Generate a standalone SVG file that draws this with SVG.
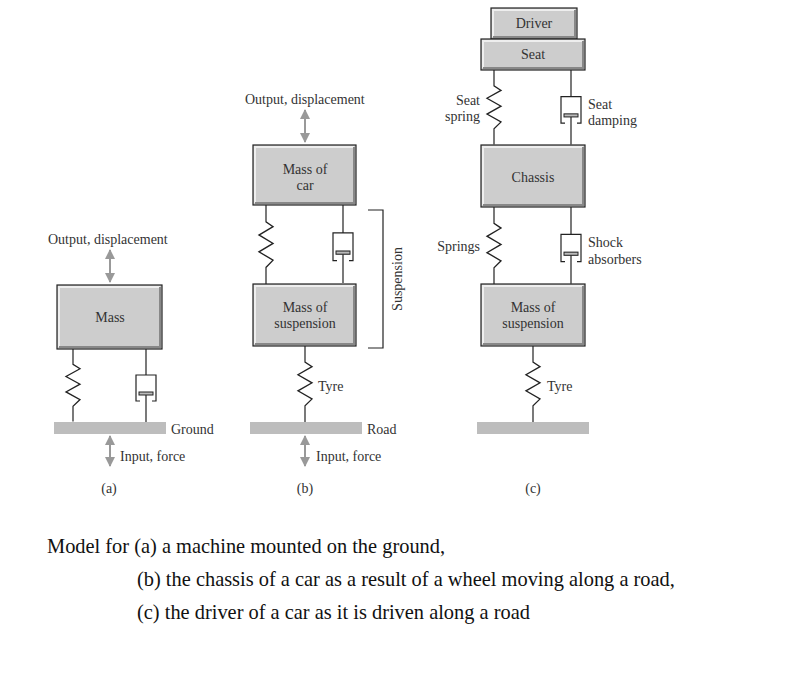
<svg xmlns="http://www.w3.org/2000/svg" width="788" height="696" viewBox="0 0 788 696">
<defs>
<style>
.box{fill:#cdcdcd;stroke:#222;stroke-width:1.2}
.hl{fill:none;stroke:#eee;stroke-width:2}
.sh{fill:none;stroke:#888;stroke-width:2}
.ln{fill:none;stroke:#222;stroke-width:1.2}
.gr{fill:#bdbdbd;stroke:none}
.t{font-family:"Liberation Serif",serif;font-size:14px;fill:#333}
.cap{font-family:"Liberation Serif",serif;font-size:20.4px;fill:#111}
.arr{fill:none;stroke:#999;stroke-width:2}
</style>
<g id="spring"><path class="ln" d="M0 0 V14 L7 18 L-7 25 L7 32 L-7 39 L7 46 L0 52 V66"/></g>
<g id="damper"><path class="ln" d="M0 0 V26 M-10 36 V26 H10 V36 M-10 40 V52 H-6 M10 40 V52 H6 M-10 36 V44 M10 36 V44 M0 46 V73"/><rect x="-7" y="43" width="14" height="3" fill="#bbb" stroke="#222" stroke-width="1"/></g>
<marker id="ah" viewBox="0 0 10 10" refX="9" refY="5" markerWidth="5" markerHeight="5" orient="auto-start-reverse"><path d="M0 0 L10 5 L0 10 Z" fill="#999"/></marker>
</defs>

<g id="connectors">
<use href="#spring" transform="translate(73,349) scale(1,1.1)"/>
<use href="#damper" transform="translate(146,349)"/>
<line class="arr" x1="110" y1="250" x2="110" y2="282" marker-start="url(#ah)" marker-end="url(#ah)"/>
<line class="arr" x1="110" y1="436" x2="110" y2="466" marker-start="url(#ah)" marker-end="url(#ah)"/>
<use href="#spring" transform="translate(266,205) scale(1,1.2)"/>
<use href="#damper" transform="translate(343,205) scale(1,1.07)"/>
<use href="#spring" transform="translate(305,346) scale(1,1.15)"/>
<line class="arr" x1="305" y1="110" x2="305" y2="142" marker-start="url(#ah)" marker-end="url(#ah)"/>
<line class="arr" x1="305" y1="436" x2="305" y2="466" marker-start="url(#ah)" marker-end="url(#ah)"/>
<path class="ln" d="M368 210 H383 V348 H368" stroke-width="1"/>
<use href="#spring" transform="translate(494,70) scale(1,1.13)"/>
<use href="#damper" transform="translate(571,70) scale(1,1.02)"/>
<use href="#spring" transform="translate(494,207) scale(1,1.17)"/>
<use href="#damper" transform="translate(571,207) scale(1,1.05)"/>
<use href="#spring" transform="translate(533,346) scale(1,1.15)"/>
</g>

<g id="ground-a"><rect class="gr" x="54" y="422" width="112" height="12"/><text class="t" x="171" y="434">Ground</text></g>
<g id="road-b"><rect class="gr" x="250" y="422" width="112" height="12"/><text class="t" x="367" y="434">Road</text></g>
<g id="road-c"><rect class="gr" x="477" y="422" width="112" height="12"/></g>

<g id="mass-a"><rect class="box" x="57" y="285" width="105" height="64"/><path class="hl" d="M59 347 V287 H160"/><path class="sh" d="M160 287 V347 H59"/><text class="t" x="110" y="322" text-anchor="middle">Mass</text></g>
<g id="mass-car"><rect class="box" x="253" y="145" width="103" height="60"/><path class="hl" d="M255 203 V147 H354"/><path class="sh" d="M354 147 V203 H255"/><text class="t" x="305" y="174" text-anchor="middle">Mass of</text><text class="t" x="305" y="190" text-anchor="middle">car</text></g>
<g id="mass-susp-b"><rect class="box" x="253" y="284" width="103" height="62"/><path class="hl" d="M255 344 V286 H354"/><path class="sh" d="M354 286 V344 H255"/><text class="t" x="305" y="312" text-anchor="middle">Mass of</text><text class="t" x="305" y="328" text-anchor="middle">suspension</text></g>
<g id="driver"><rect class="box" x="491" y="8" width="86" height="31"/><path class="hl" d="M493 37 V10 H575"/><path class="sh" d="M575 10 V37 H493"/><text class="t" x="534" y="28" text-anchor="middle">Driver</text></g>
<g id="seat"><rect class="box" x="481" y="39" width="104" height="31"/><path class="hl" d="M483 68 V41 H583"/><path class="sh" d="M583 41 V68 H483"/><text class="t" x="533" y="59" text-anchor="middle">Seat</text></g>
<g id="chassis"><rect class="box" x="481" y="145" width="104" height="62"/><path class="hl" d="M483 205 V147 H583"/><path class="sh" d="M583 147 V205 H483"/><text class="t" x="533" y="182" text-anchor="middle">Chassis</text></g>
<g id="mass-susp-c"><rect class="box" x="481" y="284" width="104" height="62"/><path class="hl" d="M483 344 V286 H583"/><path class="sh" d="M583 286 V344 H483"/><text class="t" x="533" y="312" text-anchor="middle">Mass of</text><text class="t" x="533" y="328" text-anchor="middle">suspension</text></g>

<g id="labels">
<text class="t" x="48" y="244">Output, displacement</text>
<text class="t" x="120" y="461">Input, force</text>
<text class="t" x="109" y="493" text-anchor="middle">(a)</text>
<text class="t" x="245" y="104">Output, displacement</text>
<text class="t" x="318" y="391">Tyre</text>
<text class="t" x="316" y="461">Input, force</text>
<text class="t" x="305" y="493" text-anchor="middle">(b)</text>
<text class="t" transform="translate(402,279) rotate(-90)" text-anchor="middle">Suspension</text>
<text class="t" x="480" y="105" text-anchor="end">Seat</text>
<text class="t" x="480" y="121" text-anchor="end">spring</text>
<text class="t" x="588" y="109">Seat</text>
<text class="t" x="588" y="125">damping</text>
<text class="t" x="480" y="251" text-anchor="end">Springs</text>
<text class="t" x="588" y="247">Shock</text>
<text class="t" x="588" y="264">absorbers</text>
<text class="t" x="547" y="391">Tyre</text>
<text class="t" x="533" y="493" text-anchor="middle">(c)</text>
</g>
<g id="caption">
<text class="cap" x="47" y="553">Model for (a) a machine mounted on the ground,</text>
<text class="cap" x="137" y="586">(b) the chassis of a car as a result of a wheel moving along a road,</text>
<text class="cap" x="137" y="619">(c) the driver of a car as it is driven along a road</text>
</g>
</svg>
